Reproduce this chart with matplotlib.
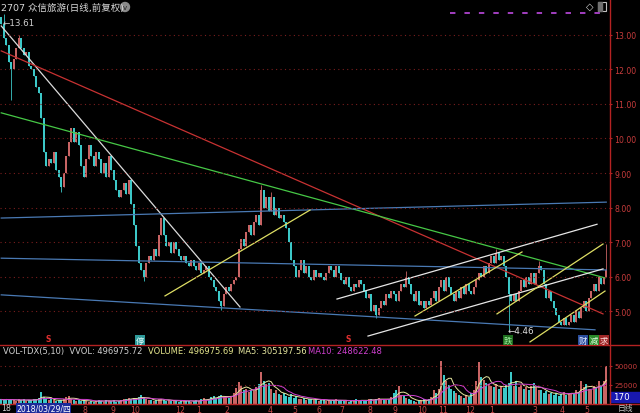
import matplotlib.pyplot as plt
import numpy as np
import pandas as pd
from matplotlib.lines import Line2D
from matplotlib.patches import Ellipse, Rectangle

plt.rcParams['font.family'] = ['DejaVu Sans', 'Noto Sans CJK SC']

W, H = 640, 414

# daily closes (one candle per ~2.5 px)
closes = [
    13.3, 12.9, 12.7, 12.2, 12.0, 12.3, 12.6, 12.9, 12.6, 12.4, 12.5, 12.1,
    12.0, 11.8, 11.5, 11.3, 10.6, 9.6, 9.2, 9.4, 9.3, 9.6, 9.1, 8.9,
    8.6, 9.0, 9.5, 9.9, 10.3, 9.9, 10.2, 9.8, 9.2, 8.9, 9.4, 9.8,
    9.5, 9.2, 9.6, 9.4, 9.0, 9.3, 8.9, 9.5, 9.1, 8.8, 8.5, 8.3,
    8.5, 8.7, 8.4, 8.8, 8.1, 7.5, 6.9, 6.4, 6.2, 6.0, 6.4, 6.6,
    6.5, 6.8, 6.6, 7.2, 7.7, 7.2, 6.9, 7.0, 6.7, 7.0, 6.8, 6.6,
    6.5, 6.6, 6.4, 6.3, 6.5, 6.3, 6.2, 6.4, 6.1, 6.2, 6.3, 6.0,
    5.9, 5.7, 5.6, 5.3, 5.15, 5.5, 5.7, 5.6, 5.8, 5.9, 6.0, 6.8,
    7.1, 6.9, 7.3, 7.5, 7.2, 7.6, 7.8, 7.5, 8.5, 8.0, 8.3, 7.9,
    8.3, 7.8, 8.0, 7.7, 7.8, 7.6, 7.4, 7.0, 6.5, 6.3, 6.0, 6.2,
    6.5, 6.1, 6.3, 6.0, 5.9, 6.2, 6.0, 6.1, 6.0, 5.9, 6.1, 6.3,
    6.2, 6.0, 6.3, 6.1, 5.9, 5.8, 6.0, 5.7, 5.6, 5.8, 5.7, 5.9,
    5.8, 5.6, 5.4, 5.5, 5.0, 5.2, 4.9, 5.1, 5.3, 5.2, 5.5, 5.4,
    5.6, 5.5, 5.3, 5.6, 5.8, 5.7, 6.0, 5.8, 5.5, 5.3, 5.6, 5.2,
    5.3, 5.1, 5.3, 5.2, 5.4, 5.6, 5.3, 5.7, 5.9, 5.6, 6.0, 5.7,
    5.5, 5.3, 5.6, 5.4, 5.7, 5.5, 5.8, 5.6, 5.5, 5.7, 5.9, 6.1,
    6.0, 6.3, 6.1, 6.4, 6.6, 6.4, 6.7, 6.5, 6.6, 6.3, 6.0, 5.5,
    5.3, 5.5, 5.3, 5.6, 5.9, 5.7, 6.0, 5.8, 6.1, 5.8, 6.1, 6.3,
    6.2, 5.8, 5.4, 5.6, 5.3, 5.1, 4.9, 4.7, 4.6, 4.8, 4.6, 4.7,
    4.9, 4.7, 5.0, 4.8, 5.1, 5.3, 5.0, 5.4, 5.6, 5.8, 5.6, 6.0,
    5.8, 6.0, 6.2,
]
first_open = 13.5
# candles with visible shadows beyond the body
wick_highs = {1: 13.61, 7: 13.0, 104: 8.65, 108: 8.45, 162: 6.18,
              198: 6.8, 215: 6.45, 242: 6.95}
wick_lows = {4: 11.1, 24: 8.45, 57: 5.87, 88: 5.05, 150: 4.8, 203: 4.46}

# volume, thousands of lots
vol_k = [
    6, 5, 7, 5, 6, 5, 4, 6, 5, 6, 4, 5, 5, 7, 6, 8, 16, 9, 6, 5,
    6, 5, 4, 5, 5, 6, 9, 11, 7, 5, 4, 5, 4, 5, 4, 3, 4, 3, 4, 5,
    4, 3, 5, 4, 4, 5, 3, 4, 5, 6, 7, 8, 7, 8, 6, 9, 12, 8, 6, 5,
    5, 4, 5, 6, 7, 5, 4, 5, 4, 5, 4, 3, 4, 5, 4, 4, 3, 4, 5, 4,
    6, 8, 5, 7, 9, 11, 8, 10, 12, 9, 10, 8, 11, 14, 21, 29,
    24, 18, 20, 16, 19, 17, 22, 26, 42, 30, 26, 28, 20, 15, 18, 13,
    12, 14, 10, 9, 13, 8, 10, 7, 6, 8, 5, 7, 6, 5, 7, 4, 5, 6, 4, 5,
    4, 5, 6, 4, 5, 4, 5, 3, 4, 5, 6, 4, 5, 4, 5, 6, 7, 5, 6, 8,
    6, 7, 5, 6, 9, 14, 18, 24, 12, 10, 8, 7, 5, 4, 3, 4, 5, 6, 4, 7,
    9, 18, 14, 20, 56, 38, 30, 25, 20, 17, 14, 12, 10, 8, 12, 9,
    15, 18, 30, 55, 35, 32, 28, 26, 24, 22, 26, 20, 24, 21, 25, 28,
    42, 24, 30, 22, 25, 20, 22, 18, 24, 27, 22, 19, 18, 15, 17, 13,
    14, 12, 15, 11, 13, 16, 12, 14, 15, 13, 18, 16, 30, 22, 26, 20,
    18, 24, 21, 30, 25, 30, 50,
]

# hand-drawn trend lines: (x0, price0, x1, price1, colour)
trend_lines = [
    (0, 13.25, 95.5, 5.13, '#dcdcdc'),
    (0, 12.53, 240.7, 4.93, '#c83232'),
    (0, 10.74, 241.5, 5.97, '#46c846'),
    (0, 7.70, 242, 8.16, '#4a7ab4'),
    (0, 6.54, 242, 6.20, '#4a7ab4'),
    (0, 5.48, 237.5, 4.47, '#4a7ab4'),
    (65.5, 5.45, 123.5, 7.93, '#dede64'),
    (134.3, 5.36, 238.3, 7.52, '#e6e6e6'),
    (146.7, 4.29, 240.7, 6.23, '#e6e6e6'),
    (165.5, 4.87, 208.3, 6.72, '#dede64'),
    (198.3, 4.93, 240.7, 6.95, '#dede64'),
    (211.5, 4.12, 241.5, 5.59, '#dede64'),
]

month_pos = [33.5, 44.7, 53.5, 71.5, 79.1, 90.3, 107.5, 117.5, 127.1, 136.3,
             147.5, 157.5, 168.3, 176.7, 187.5, 196.3, 213.5, 224.3, 234.3]
month_labels = ['8', '9', '10', '12', '1', '2', '4', '5', '6', '7',
                '8', '9', '10', '11', '12', '1', '3', '4', '5']

UP = '#c86464'
DOWN = '#3cc8c8'
GRID = '#7a1e1e'
RED = '#b42222'


def fpos(px, py):
    return px / W, 1 - py / H


def label(px, py, s, **kw):
    kw.setdefault('va', 'center')
    fig.text(*fpos(px, py), s, **kw)


fig = plt.figure(figsize=(6.4, 4.14), dpi=100, facecolor='black')
ax = fig.add_axes([0, 1 - 345 / H, 609 / W, 345 / H], facecolor='black')
axv = fig.add_axes([0, 1 - 405 / H, 609 / W, 59 / H], facecolor='black')

# candles
c = np.array(closes)
o = np.r_[first_open, c[:-1]]
hi = np.maximum(o, c)
lo = np.minimum(o, c)
for k, v in wick_highs.items():
    hi[k] = v
for k, v in wick_lows.items():
    lo[k] = v
x = np.arange(len(c))
up = c >= o
cols = np.where(up, UP, DOWN)
ax.vlines(x, lo, hi, colors=cols, lw=0.6)
ax.bar(x, c - o, bottom=o, width=0.65, color=cols, lw=0)

for x0, p0, x1, p1, col in trend_lines:
    ax.plot([x0, x1], [p0, p1], color=col, lw=0.9)

ax.set_xlim(-0.5, 243.1)
ax.set_ylim(4.06, 14.03)
for p in range(5, 14):
    ax.axhline(p, color=GRID, lw=0.8, ls=(0, (1, 3)))
ax.yaxis.tick_right()
ax.set_yticks(range(5, 14), [f'{p:.2f}' for p in range(5, 14)])
ax.tick_params(axis='y', colors=RED, labelcolor='#c83c3c', labelsize=5.6,
               length=2.5, width=0.8, pad=1.5)
ax.set_xticks([])
for s in ax.spines.values():
    s.set_visible(False)

# volume panel
vol = np.array(vol_k) * 1000
axv.bar(x, vol, width=0.65, color=cols, lw=0)
vs = pd.Series(vol)
axv.plot(x, vs.rolling(5, min_periods=1).mean(), color='#e8e8a0', lw=0.7)
axv.plot(x, vs.rolling(10, min_periods=1).mean(), color='#d040d0', lw=0.7)
axv.set_xlim(-0.5, 243.1)
axv.set_ylim(0, 77600)
for v in (25000, 50000):
    axv.axhline(v, color=GRID, lw=0.8, ls=(0, (1, 3)))
axv.yaxis.tick_right()
axv.set_yticks([25000, 50000], ['25000', '50000'])
axv.tick_params(axis='y', colors=RED, labelcolor='#c83c3c', labelsize=5.2,
                length=2.5, width=0.8, pad=1.2)
axv.set_xticks(month_pos, month_labels)
axv.tick_params(axis='x', length=0, labelsize=5.6, labelcolor='#c84848', pad=0.4)
for s in axv.spines.values():
    s.set_visible(False)

# frame lines
for line in [Line2D([0, 1], [1 - 345.5 / H] * 2, color=RED, lw=1),
             Line2D([0, 1], [1 - 404.5 / H] * 2, color=RED, lw=1),
             Line2D([609.5 / W] * 2, [1 - 404.5 / H, 1], color=RED, lw=1)]:
    fig.add_artist(line)

# header
label(1, 8, '2707 众信旅游(日线,前复权)', color='#d8d8d8', fontsize=6.8)
fig.add_artist(Ellipse(fpos(125, 8), 9 / W, 9 / H, color='#8a8a8a'))
label(125, 7.5, 'v', color='#202020', fontsize=5, ha='center')
fig.add_artist(Line2D([450 / W, 605 / W], [1 - 14 / H] * 2, color='#b044d0',
                      lw=1.3, ls=(0, (3, 5))))
label(590, 7, '◇', color='#e0e0e0', fontsize=7, ha='center')
fig.add_artist(Rectangle(fpos(598, 12), 8 / W, 9 / H, fill=False,
                         edgecolor='#c0c0c0', lw=0.8))
fig.add_artist(Rectangle(fpos(598, 12), 4 / W, 9 / H, color='#707070'))

label(3, 24, '←13.61', color='#d0d0d0', fontsize=6.3)
label(508, 332, '←4.46', color='#e0e0e0', fontsize=6.3)

# signal markers
label(48, 340, 'S', color='#e03030', fontsize=5.5, ha='center', weight='bold')
label(348, 340, 'S', color='#e03030', fontsize=5.5, ha='center', weight='bold')
for px, s, bg, fg in [(140, '停', '#2e9a9a', '#e8ffff'),
                      (508, '跌', '#1e6e1e', '#a0f0a0'),
                      (583, '财', '#2a4e9e', '#e0e8ff'),
                      (594, '减', '#2a8a2a', '#e0ffe0'),
                      (604, '求', '#a02828', '#ffe0e0')]:
    label(px, 341, s, color=fg, fontsize=6, ha='center',
          bbox=dict(boxstyle='square,pad=0.1', fc=bg, ec='none'))

# volume header
label(3, 352, 'VOL-TDX(5,10)  VVOL: 496975.72', color='#d0d0d0', fontsize=6)
label(148, 352, 'VOLUME: 496975.69', color='#e6e68c', fontsize=6)
label(238, 352, 'MA5: 305197.56', color='#e8e8a0', fontsize=6)
label(308, 352, 'MA10: 248622.48', color='#d040d0', fontsize=6)

# bottom row
label(1, 409, '18', color='#d0d0d0', fontsize=5.6)
label(16, 409, '2018/03/29/四', color='white', fontsize=5.6,
      bbox=dict(boxstyle='square,pad=0.05', fc='#1c2a9a', ec='none'))
fig.add_artist(Rectangle(fpos(610, 403), 30 / W, 10 / H, color='#1818b0'))
label(613, 398, '170', color='white', fontsize=6.3)
label(618, 409, '日线', color='#c8c8c8', fontsize=5.6)

fig.savefig('out.png', dpi=100, facecolor='black')
